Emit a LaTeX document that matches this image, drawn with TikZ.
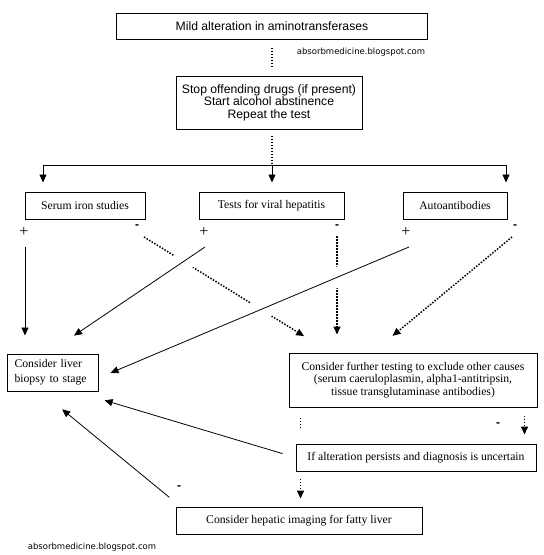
\documentclass[tikz,border=0pt]{standalone}
\usepackage{fontspec}
\setmainfont{Liberation Serif}
\newfontfamily\arialfont{Liberation Sans}
\newfontfamily\wmfont{DejaVu Sans}
\usetikzlibrary{positioning,arrows.meta}

\begin{document}
\begin{tikzpicture}[x=1pt,y=-1pt,
    box/.style={draw,line width=1pt,inner sep=0pt,minimum height=27pt,align=center,font=\fontsize{11.7}{12.5}\selectfont},
    sbox/.style={box,font=\arialfont\fontsize{12.2}{12.5}\selectfont},
    arr/.style={line width=0.8pt,-{Triangle[length=8pt,width=7pt]}},
    hop/.style={preaction={draw=white,line width=20pt,-}},
    dotline/.style={line width=1.5pt,dash pattern=on 1.5pt off 1.5pt},
    dotarr/.style={dotline,-{Triangle[length=8pt,width=7pt]}},
    plus/.style={inner sep=0pt,font=\fontsize{16}{16}\selectfont},
    minus/.style={inner sep=0pt,font=\arialfont\bfseries\fontsize{12}{12}\selectfont},
    wm/.style={inner sep=0pt,font=\wmfont\fontsize{8.5}{8.5}\selectfont},
]
\useasboundingbox (0,0) rectangle (544,555);

\node[sbox,minimum width=311pt,minimum height=26pt] (alt) at (272,26) {Mild alteration in aminotransferases};
\node[wm] (wmtop) at (361,52) {absorbmedicine.blogspot.com};
\node[sbox,minimum width=186pt,minimum height=53pt] (stop) at (269,102.5) {Stop offending drugs (if present)\\Start alcohol abstinence\\Repeat the test};

\node[box,minimum width=120pt] (iron) at (85,205.5) {Serum iron studies};
\node[box,minimum width=145pt] (viral) at (271.5,205.5) {Tests for viral hepatitis};
\node[box,minimum width=104pt] (auto) at (455,205.5) {Autoantibodies};

\node[box,minimum width=91pt,minimum height=37pt,text width=76pt,align=left,font=\fontsize{11.7}{15}\selectfont] (biopsy) at (52.5,372.5) {Consider liver\\biopsy to stage};
\node[box,minimum width=248pt,minimum height=54pt] (further) at (413,380) {Consider further testing to exclude other causes\\(serum caeruloplasmin, alpha1-antitripsin,\\tissue transglutaminase antibodies)};
\node[box,minimum width=240pt] (persist) at (416,457.5) {If alteration persists and diagnosis is uncertain};
\node[box,minimum width=246pt] (imaging) at (299,520.5) {Consider hepatic imaging for fatty liver};
\node[wm] (wmbot) at (92,547) {absorbmedicine.blogspot.com};

\node[plus]  (p1) at (24,232)  {+};
\node[minus] (m1) at (137,227) {-};
\node[plus]  (p2) at (204,232) {+};
\node[minus] (m2) at (337,227) {-};
\node[plus]  (p3) at (406,232) {+};
\node[minus] (m3) at (515,227) {-};
\node[minus] (m4) at (498,425) {-};
\node[minus] (m5) at (179,488) {-};

\coordinate (fork) at (272,165);
\coordinate (fl) at (43,165);
\coordinate (fr) at (506,165);
\coordinate (pl) at ([xshift=5pt]persist.north west);
\coordinate (pr) at ([xshift=-12pt]persist.north east);

\draw[dotline,shorten <=8pt,shorten >=8pt] (alt.south) -- (alt.south |- stop.north);
\draw[dotline,shorten <=6pt,shorten >=2pt] (stop.south -| fork) -- (fork);
\draw[line width=0.8pt] (fl) -- (fr);
\draw[arr,shorten >=9pt] (fl) -- (fl |- iron.north);
\draw[arr,shorten >=9pt] (fork) -- (fork |- viral.north);
\draw[arr,shorten >=9pt] (fr) -- (fr |- auto.north);

\draw[dotarr,shorten >=31pt] ([xshift=7pt,yshift=-10pt]m1.center) -- ([xshift=42pt]further.north west);
\draw[dotarr,shorten <=9pt,shorten >=18pt] (m2.center) -- (m2.center |- further.north);
\draw[dotarr,shorten >=26pt] ([xshift=-3pt,yshift=-10pt]m3.center) -- ([xshift=84pt]further.north west);

\draw[arr,shorten <=15pt,shorten >=18pt] ([xshift=1pt]p1.center) -- ([xshift=1pt]p1.center |- biopsy.north);
\draw[arr,hop,shorten >=32pt] ([xshift=1pt,yshift=-15pt]p2.center) -- ([xshift=-5pt]biopsy.north);
\draw[arr,hop,shorten >=13pt] ([xshift=3pt,yshift=-15pt]p3.center) -- ([yshift=-5.5pt]biopsy.east);

\draw[dotline,shorten <=10pt,shorten >=16pt] (pl |- further.south) -- (pl);
\draw[dotarr,shorten <=8pt,shorten >=9pt] (pr |- further.south) -- (pr);
\draw[dotarr,shorten <=7pt,shorten >=8pt] (pl |- persist.south) -- (pl |- imaging.north);

\draw[arr,shorten <=13.6pt,shorten >=6.3pt] (persist.west) -- ([yshift=-7pt]biopsy.south east);
\draw[arr,shorten <=14.3pt,shorten >=28pt] ([xshift=5pt]imaging.north west) -- ([xshift=-12pt]biopsy.south);
\end{tikzpicture}
\end{document}
